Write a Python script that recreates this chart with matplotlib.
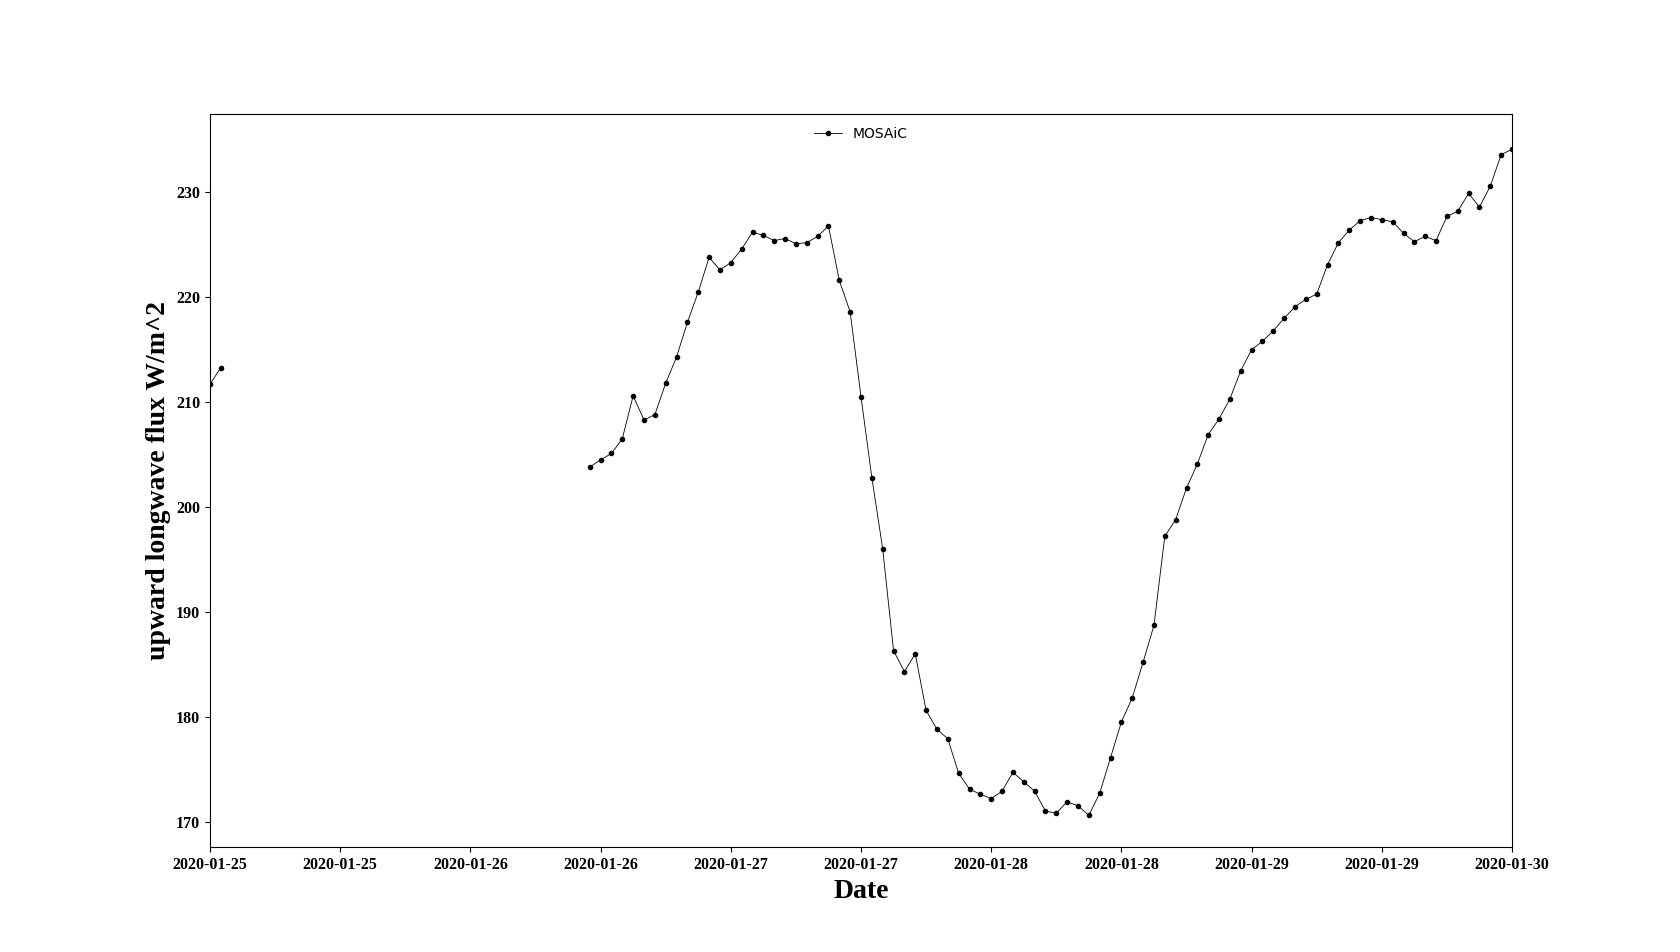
import numpy as np
import pandas as pd
import matplotlib
matplotlib.use("Agg")
import matplotlib.pyplot as plt
import matplotlib.dates as mdates

start = "2020-01-25 00:00"
first_vals = [211.7, 213.3]
gap_hours = 33
main_vals = [203.8,204.5,205.1,206.5,210.6,208.3,208.8,211.8,214.3,217.6,220.5,223.8,222.6,223.3,224.6,
226.2,225.9,225.4,225.6,225.1,225.2,225.8,226.8,221.6,218.6,210.5,202.8,196.0,186.3,184.3,186.0,
180.6,178.8,177.9,174.6,173.1,172.6,172.2,172.9,174.7,173.8,172.9,171.0,170.8,171.9,171.5,170.6,
172.7,176.1,179.5,181.8,185.2,188.7,197.2,198.8,201.8,204.1,206.9,208.4,210.3,213.0,215.0,215.8,
216.8,218.0,219.1,219.8,220.3,223.1,225.2,226.4,227.3,227.6,227.4,227.2,226.1,225.3,225.8,225.4,
227.7,228.2,229.9,228.6,230.6,233.6,234.1]

values = np.array(first_vals + [np.nan]*gap_hours + main_vals)
times = pd.date_range(start, periods=len(values), freq="h")

fig = plt.figure(figsize=(16.8, 9.52), dpi=100)
ax = fig.add_subplot(111)
ax.plot(times, values, color="black", lw=0.6, marker=".", markersize=6, label="MOSAiC")
ax.set_xlim(pd.Timestamp("2020-01-25"), pd.Timestamp("2020-01-30"))
ax.set_ylim(167.55, 237.45)
ax.xaxis.set_major_locator(mdates.HourLocator(byhour=[0, 12]))
ax.xaxis.set_major_formatter(mdates.DateFormatter("%Y-%m-%d"))
for lab in ax.get_xticklabels() + ax.get_yticklabels():
    lab.set_fontfamily("Liberation Serif")
    lab.set_fontweight("bold")
    lab.set_fontsize(11.5)
ax.set_xlabel("Date", fontfamily="Liberation Serif", fontweight="bold", fontsize=20)
ax.set_ylabel("upward longwave flux W/m^2", fontfamily="Liberation Serif", fontweight="bold", fontsize=20)
ax.legend(loc="upper center", frameon=False, fontsize=10)
fig.savefig("out.png", dpi=100)
